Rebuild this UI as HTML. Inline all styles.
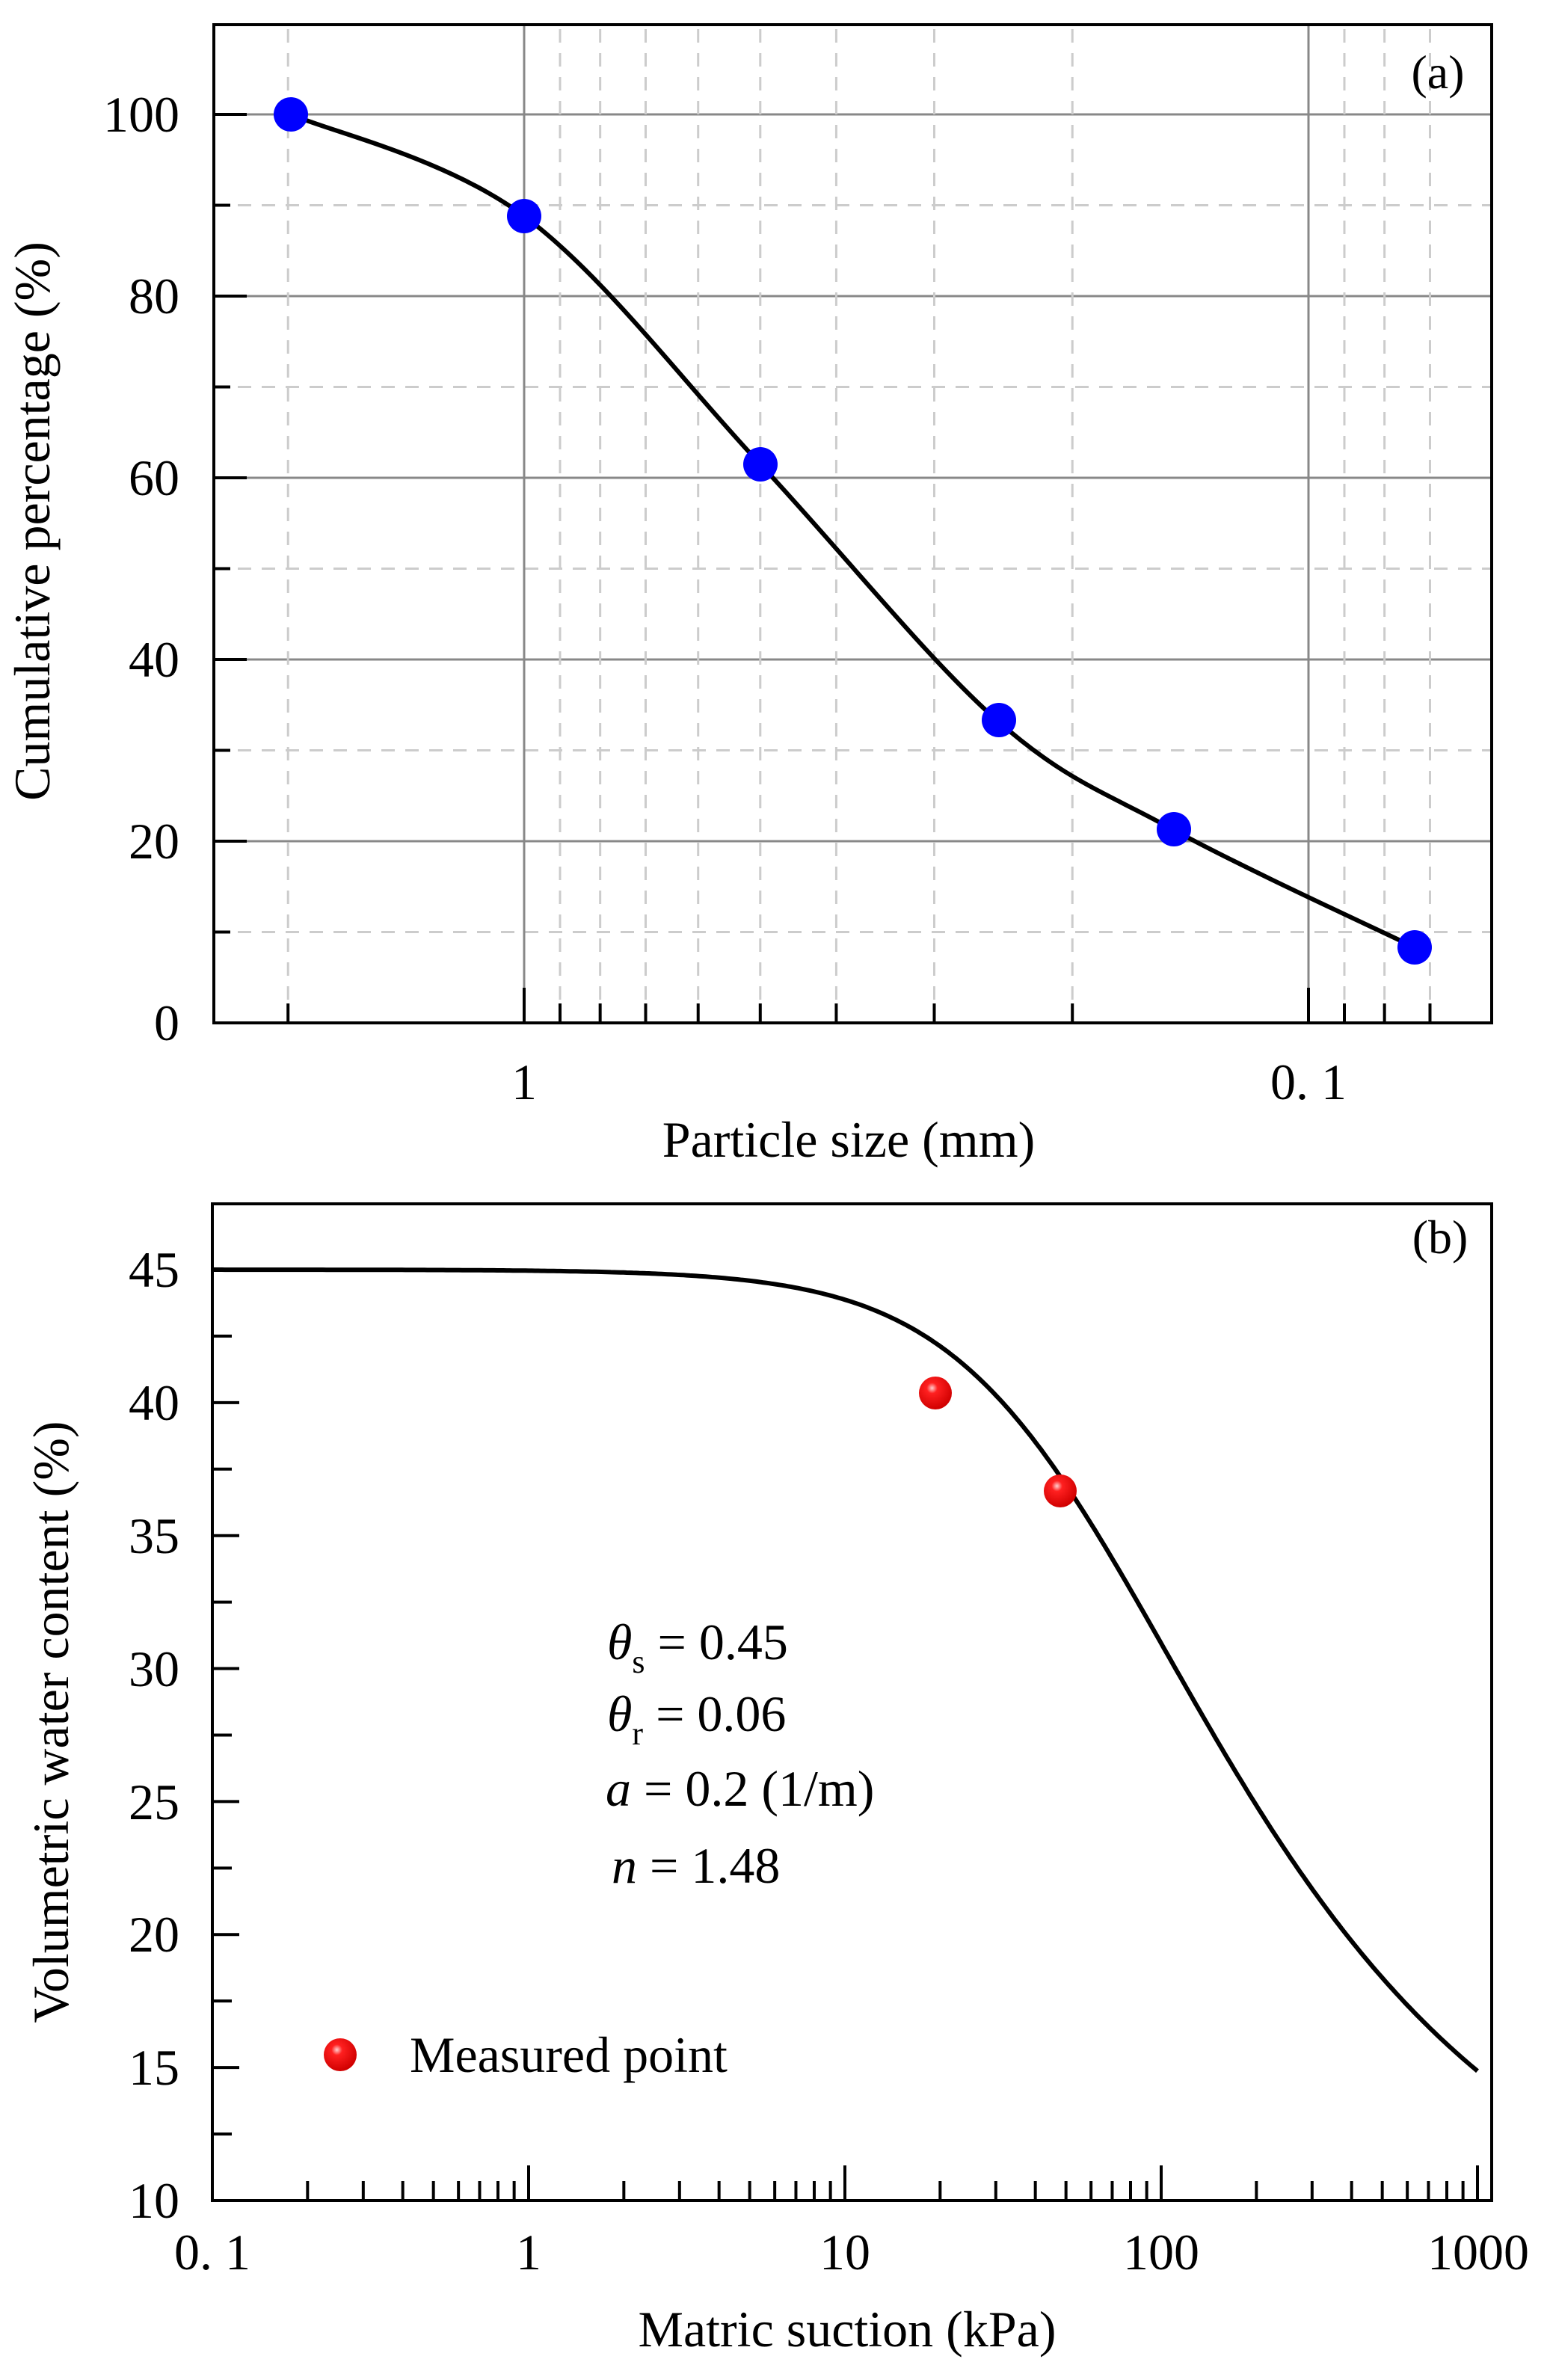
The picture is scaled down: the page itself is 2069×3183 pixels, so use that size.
<!DOCTYPE html>
<html><head><meta charset="utf-8"><style>
html,body{margin:0;padding:0;background:#fff;}
svg{display:block;}
text{font-family:"Liberation Serif",serif;fill:#000;}
</style></head><body>
<svg id="s" width="2069" height="3183" viewBox="0 0 2069 3183" xmlns="http://www.w3.org/2000/svg">
<rect width="2069" height="3183" fill="#fff"/>
<g id="ga"></g>
<path d="M389,153 C441,176 596,211 701,289 C806,367 912,509 1017,621 C1122,733 1241,882 1333,963 C1425,1044 1475,1058 1568,1109 C1661,1160 1838,1241 1892,1267" fill="none" stroke="#000" stroke-width="6"/>
<g fill="#0000ff">
<circle cx="389" cy="153" r="23"/><circle cx="701" cy="289" r="23"/><circle cx="1017" cy="621" r="23"/>
<circle cx="1336" cy="963" r="23"/><circle cx="1570" cy="1109" r="23"/><circle cx="1892" cy="1267" r="23"/>
</g>
<rect x="286" y="33" width="1709" height="1335" fill="none" stroke="#000" stroke-width="4"/>
<g font-size="68" text-anchor="end">
<text x="240" y="176">100</text><text x="240" y="419">80</text><text x="240" y="662">60</text>
<text x="240" y="905">40</text><text x="240" y="1148">20</text><text x="240" y="1391">0</text>
</g>
<g font-size="68" text-anchor="middle">
<text x="701" y="1470">1</text><text x="1750" y="1470">0. 1</text>
<text x="1135" y="1547" font-size="68">Particle size (mm)</text>
<text x="1923" y="118" font-size="64">(a)</text>
<text transform="translate(66,697) rotate(-90)" font-size="68">Cumulative percentage (%)</text>
</g>
<g id="gb"></g>
<path id="vg" d="" fill="none" stroke="#000" stroke-width="6"/>
<defs><radialGradient id="rg" cx="0.4" cy="0.35" r="0.65"><stop offset="0" stop-color="#ffd0d0"/><stop offset="0.25" stop-color="#ff2020"/><stop offset="1" stop-color="#d00000"/></radialGradient></defs>
<circle cx="1251" cy="1863" r="22" fill="url(#rg)"/>
<circle cx="1418" cy="1994" r="22" fill="url(#rg)"/>
<circle cx="455" cy="2748" r="22" fill="url(#rg)"/>
<rect x="284" y="1610" width="1711" height="1333" fill="none" stroke="#000" stroke-width="4"/>
<g font-size="68" text-anchor="end">
<text x="240" y="1721">45</text><text x="240" y="1899">40</text><text x="240" y="2077">35</text>
<text x="240" y="2255">30</text><text x="240" y="2433">25</text><text x="240" y="2610">20</text>
<text x="240" y="2788">15</text><text x="240" y="2966">10</text>
</g>
<g font-size="68" text-anchor="middle">
<text x="284" y="3035">0. 1</text><text x="707" y="3035">1</text><text x="1130" y="3035">10</text>
<text x="1553" y="3035">100</text><text x="1977" y="3035">1000</text>
<text x="1133" y="3138" font-size="68">Matric suction (kPa)</text>
<text x="1926" y="1676" font-size="64">(b)</text>
<text transform="translate(91,2303) rotate(-90)" font-size="68">Volumetric water content (%)</text>
</g>
<g font-size="68">
<text x="548" y="2771">Measured point</text>
<text x="812" y="2219"><tspan font-style="italic">θ</tspan><tspan font-size="44" dy="18">s</tspan><tspan dy="-18"> = 0.45</tspan></text>
<text x="812" y="2315"><tspan font-style="italic">θ</tspan><tspan font-size="44" dy="18">r</tspan><tspan dy="-18"> = 0.06</tspan></text>
<text x="810" y="2415"><tspan font-style="italic">a</tspan> = 0.2 (1/m)</text>
<text x="818" y="2518"><tspan font-style="italic">n</tspan> = 1.48</text>
</g>
</svg>
<script>
(function(){
var NS="http://www.w3.org/2000/svg";
function ln(g,x1,y1,x2,y2,c,w,d){var l=document.createElementNS(NS,"line");l.setAttribute("x1",x1);l.setAttribute("y1",y1);l.setAttribute("x2",x2);l.setAttribute("y2",y2);l.setAttribute("stroke",c);l.setAttribute("stroke-width",w);if(d)l.setAttribute("stroke-dasharray",d);g.appendChild(l);}
var ga=document.getElementById("ga");
var L=286,R=1995,T=33,B=1368;
function ya(v){return 1368-12.15*v;}
for(var v=10;v<=100;v+=10){var y=ya(v);if(v%20==0){ln(ga,L,y,R,y,"#888",3);ln(ga,L,y,L+44,y,"#000",4);}else{ln(ga,L,y,R,y,"#ccc",3,"18,14");ln(ga,L,y,L+22,y,"#000",4);}}
function xa(d){return 701-1049*Math.log10(d);}
var ds=[2,0.9,0.8,0.7,0.6,0.5,0.4,0.3,0.2,0.09,0.08,0.07];
ds.forEach(function(d){var x=xa(d);ln(ga,x,T+6,x,B,"#ccc",3,"18,14");ln(ga,x,B-26,x,B,"#000",4);});
[1,0.1].forEach(function(d){var x=xa(d);ln(ga,x,T,x,B,"#888",3);ln(ga,x,B-47,x,B,"#000",4);});
var gb=document.getElementById("gb");
var bL=284,bB=2943;
function xb(p){return 284+423*(Math.log10(p)+1);}
function yb(t){return 1698+35.57*(45-t);}
for(var t=10;t<=47.5;t+=2.5){var y=yb(t);if(y<1612)continue;ln(gb,bL,y,bL+(t%5==0?36:26),y,"#000",4);}
for(var e=-1;e<3;e++){for(var k=1;k<10;k++){var p=k*Math.pow(10,e);var x=xb(p);ln(gb,x,bB,x,bB-(k==1?47:26),"#000",4);}}
ln(gb,xb(1000),bB,xb(1000),bB-47,"#000",4);
var ts=0.45,tr=0.06,a=0.2,n=1.49,m=1-1/n,d="";
for(var i=0;i<=400;i++){var lp=-1+4*i/400;var p=Math.pow(10,lp);var h=p/9.81;
var th=tr+(ts-tr)/Math.pow(1+Math.pow(a*h,n),m);
d+=(i?"L":"M")+xb(p).toFixed(1)+","+yb(th*100).toFixed(1);}
document.getElementById("vg").setAttribute("d",d);
})();
</script>
</body></html>
